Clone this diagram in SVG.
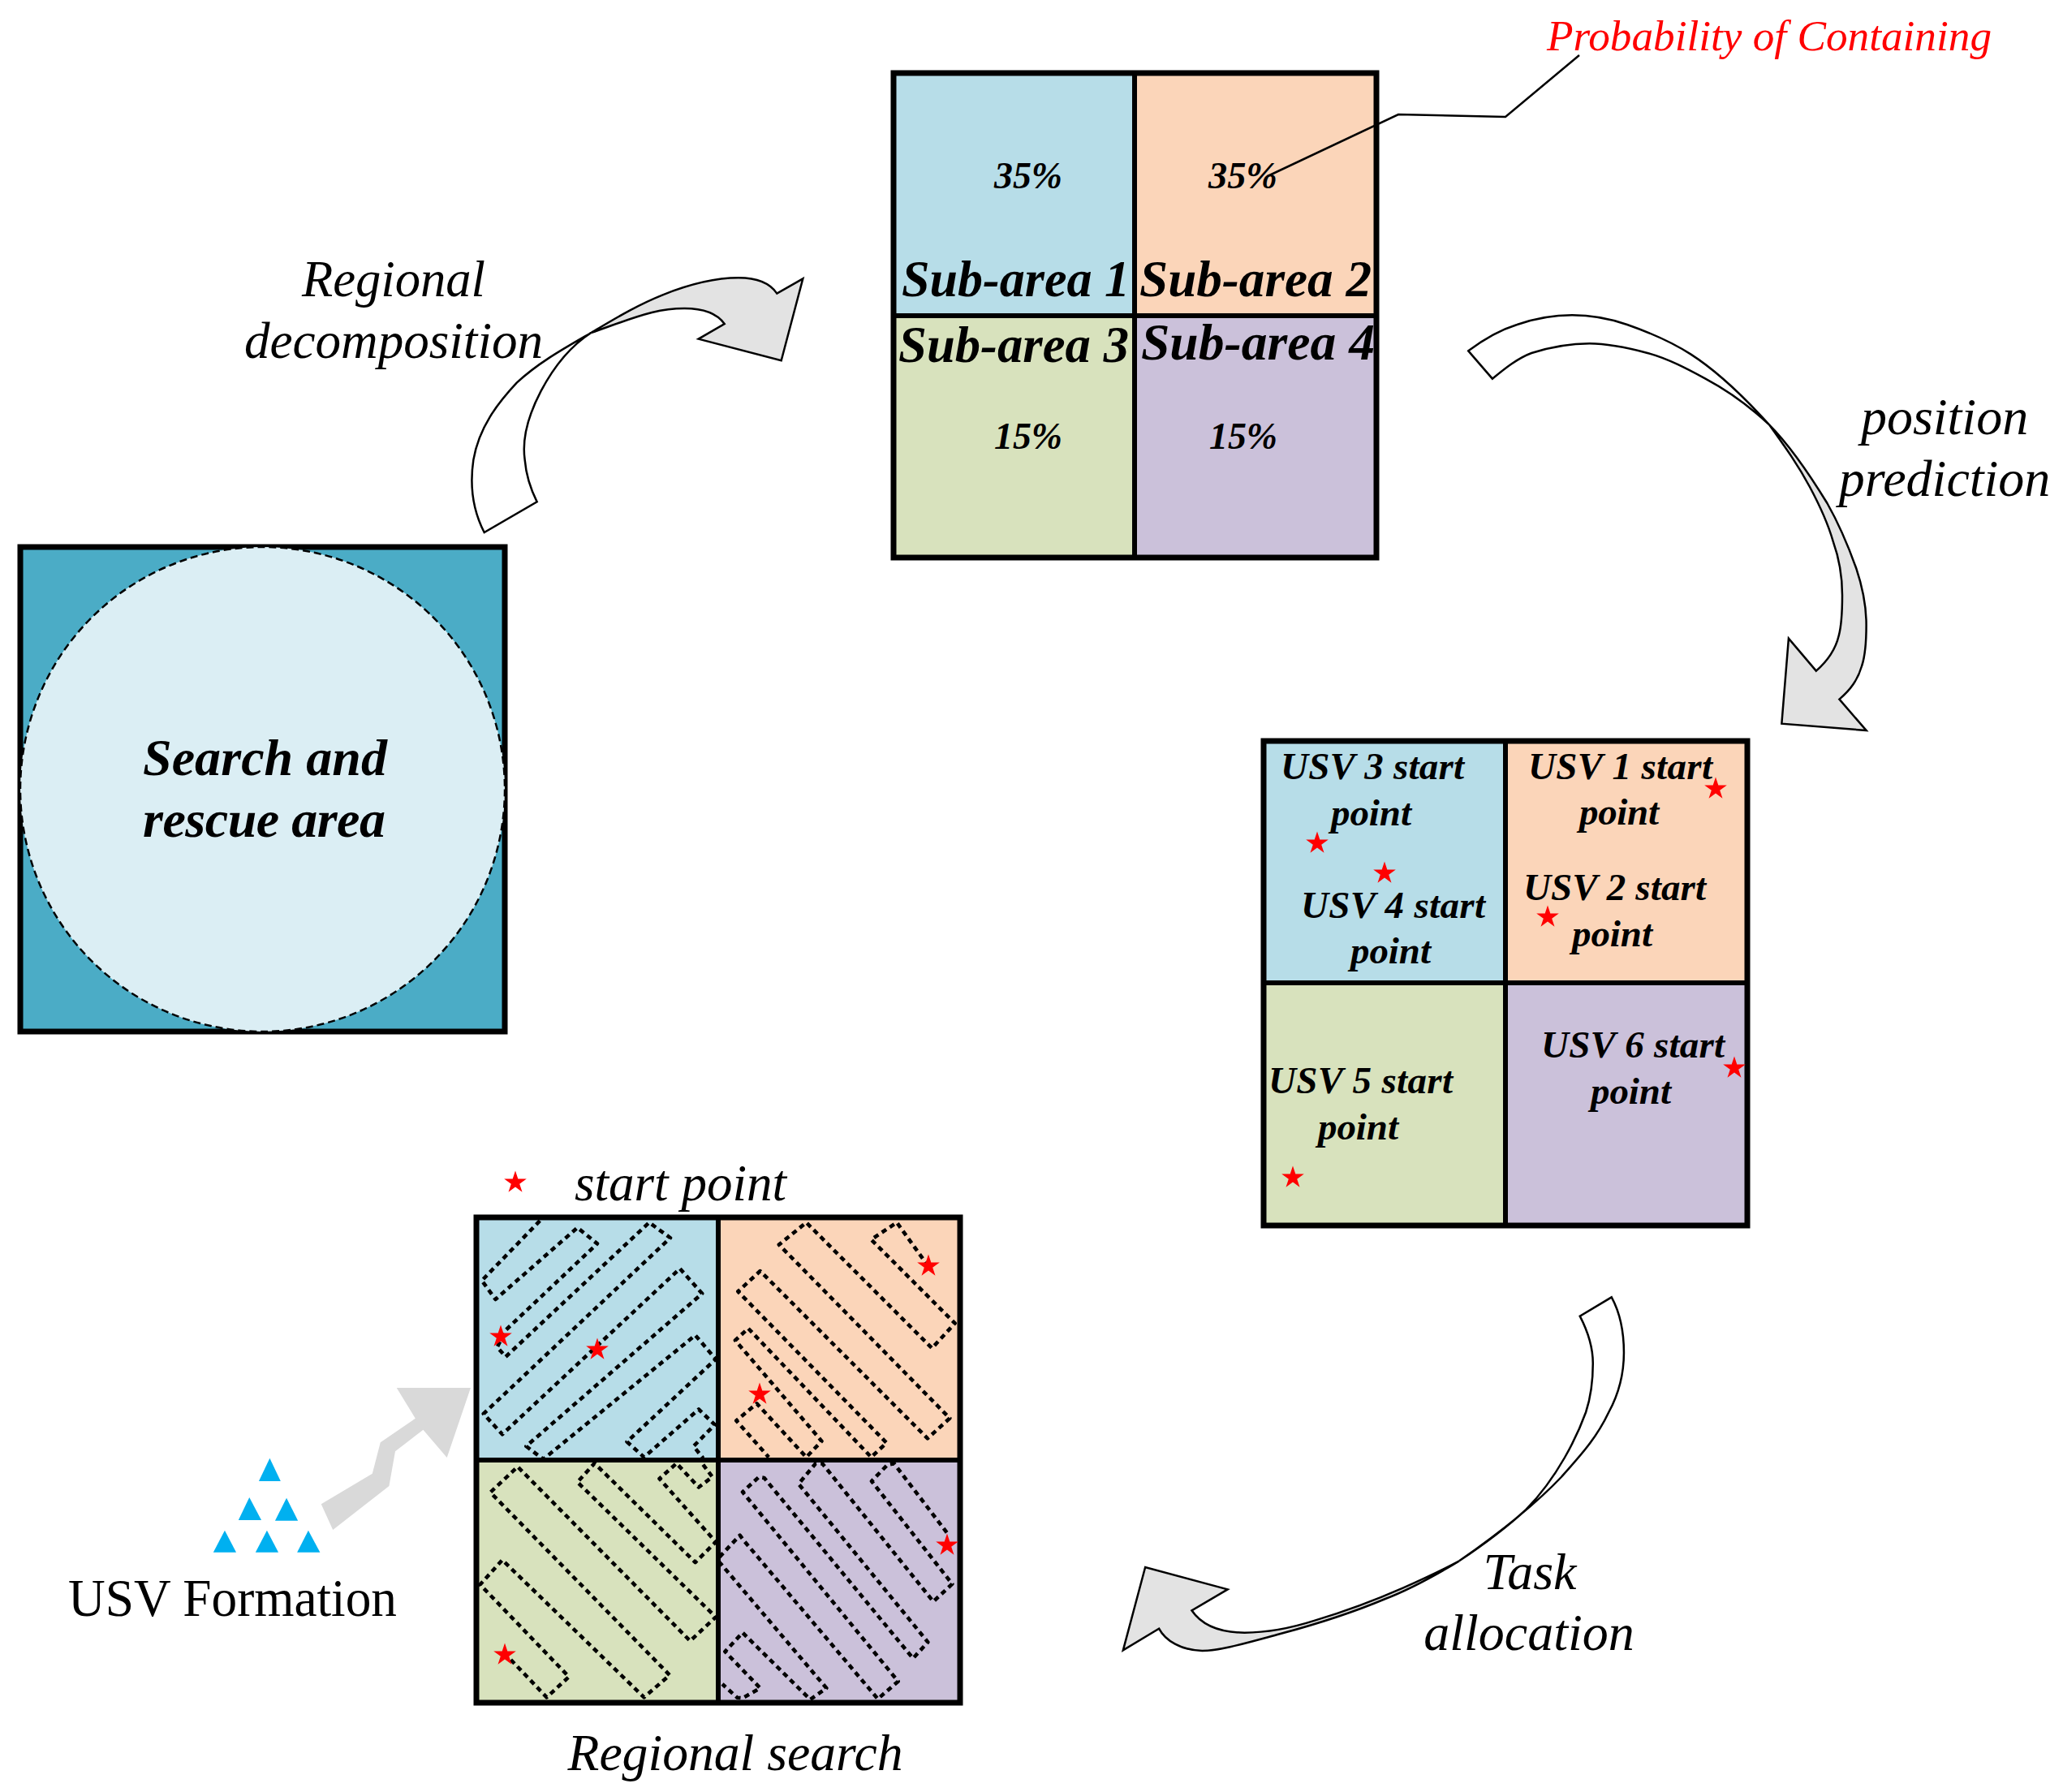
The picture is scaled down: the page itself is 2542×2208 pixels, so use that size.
<svg xmlns="http://www.w3.org/2000/svg" xmlns:xlink="http://www.w3.org/1999/xlink" width="2542" height="2208" viewBox="0 0 2542 2208">
<style>
text{font-family:"Liberation Serif","Times New Roman",serif;font-style:italic;fill:#000}
.lab{font-size:64px}
.big{font-size:64px;font-weight:bold}
.pc{font-size:46px;font-weight:bold}
.sp{font-size:47px;font-weight:bold}
.out{fill:none;stroke:#000;stroke-width:7;stroke-linejoin:miter}
.mid{stroke:#000;stroke-width:6}
.b{fill:#B7DDE8}.o{fill:#FBD5B9}.g{fill:#D8E2BD}.p{fill:#CBC1DA}
.w{fill:#fff;stroke:#000;stroke-width:2.5;stroke-linejoin:miter;vector-effect:non-scaling-stroke}
.h{fill:#E3E3E3;stroke:#000;stroke-width:2.5;stroke-linejoin:miter;vector-effect:non-scaling-stroke}
.d{fill:none;stroke:#000;stroke-width:4.6;stroke-dasharray:6.5 5.2;stroke-linejoin:round;vector-effect:non-scaling-stroke}
.t{fill:#00B0F0}
.s{fill:#FF0000}
</style>
<defs>
<polygon id="star" points="0,-14.5 3.3,-4.5 13.8,-4.5 5.2,1.7 8.5,11.7 0,5.5 -8.5,11.7 -5.2,1.7 -13.8,-4.5 -3.3,-4.5"/>
</defs>

<g id="search-area">
<rect x="25" y="674" width="597" height="597" fill="#4BACC6" stroke="#000" stroke-width="7"/>
<circle cx="323.5" cy="972.5" r="298.5" fill="#DBEEF4" stroke="#000" stroke-width="2.5" stroke-dasharray="9 5"/>
<text class="big" x="176" y="955" textLength="301" lengthAdjust="spacing">Search and</text>
<text class="big" x="176" y="1031" textLength="299" lengthAdjust="spacing">rescue area</text>
</g>

<g id="sub-areas">
<rect class="b" x="1101" y="90" width="297" height="299"/>
<rect class="o" x="1398" y="90" width="298" height="299"/>
<rect class="g" x="1101" y="389" width="297" height="298"/>
<rect class="p" x="1398" y="389" width="298" height="298"/>
<rect class="out" x="1101" y="90" width="595" height="597"/>
<line class="mid" x1="1398" y1="90" x2="1398" y2="687"/>
<line class="mid" x1="1101" y1="389" x2="1696" y2="389"/>
<text class="pc" x="1225" y="232" textLength="84" lengthAdjust="spacingAndGlyphs">35%</text>
<text class="pc" x="1489" y="232" textLength="85" lengthAdjust="spacingAndGlyphs">35%</text>
<text class="pc" x="1225" y="553" textLength="84" lengthAdjust="spacingAndGlyphs">15%</text>
<text class="pc" x="1490" y="553" textLength="84" lengthAdjust="spacingAndGlyphs">15%</text>
<text class="big" x="1111" y="365" textLength="281" lengthAdjust="spacingAndGlyphs">Sub-area 1</text>
<text class="big" x="1404" y="365" textLength="286" lengthAdjust="spacingAndGlyphs">Sub-area 2</text>
<text class="big" x="1107" y="446" textLength="284" lengthAdjust="spacingAndGlyphs">Sub-area 3</text>
<text class="big" x="1406" y="443" textLength="288" lengthAdjust="spacingAndGlyphs">Sub-area 4</text>
</g>

<g id="connectors">
<g id="arrow-decomposition" transform="translate(550,300) scale(0.33333)">
<path class="w" d="M140,1068 C100,990 85,900 100,800 C120,680 190,590 260,515 C340,440 440,385 535,330 C450,385 395,460 350,545 C300,640 280,730 290,800 C295,860 310,905 335,955 Z"/>
<path class="h" d="M535,330 C620,280 700,230 800,190 C900,150 1000,127 1080,127 C1150,127 1195,145 1222,185 L1318,130 L1238,433 L932,353 L1028,297 C1000,258 945,240 880,240 C840,240 800,245 760,255 C680,275 610,305 535,330 Z"/>
</g>
<g id="arrow-prediction" transform="translate(1780,400) scale(0.35714,0.33333)">
<path class="w" d="M82,97 C140,50 190,20 250,0 C310,-22 375,-35 440,-35 C505,-35 570,-22 630,0 C710,30 785,65 850,110 C930,165 1010,240 1120,370 C1040,290 970,240 900,200 C840,165 770,125 700,105 C630,85 565,70 500,70 C430,70 360,85 300,105 C250,125 205,165 165,200 Z"/>
<path class="h" d="M1120,370 C1190,445 1260,555 1320,660 C1365,745 1395,825 1420,900 C1445,980 1455,1050 1455,1110 C1455,1170 1452,1220 1440,1260 C1425,1315 1400,1350 1362,1385 L1455,1500 L1163,1475 L1187,1160 L1282,1280 C1325,1240 1350,1195 1360,1150 C1370,1110 1372,1060 1372,1000 C1372,930 1360,860 1340,800 C1320,725 1290,660 1260,600 C1220,520 1180,460 1120,370 Z"/>
</g>
<g id="arrow-allocation" transform="translate(1360,1580) scale(0.43365,0.33333)">
<path class="w" d="M1443,55 C1468,115 1478,185 1478,260 C1478,340 1460,420 1435,480 C1395,590 1340,660 1300,720 C1220,830 1120,930 1010,1030 C1090,960 1150,900 1200,840 C1290,720 1345,570 1370,480 C1385,420 1390,360 1390,300 C1390,240 1375,180 1353,125 Z"/>
<path class="h" d="M1010,1030 C940,1085 870,1135 800,1170 C700,1225 600,1265 500,1300 C400,1335 330,1362 280,1362 C220,1360 175,1325 157,1280 L55,1360 L118,1053 L352,1135 L250,1213 C280,1270 330,1295 400,1295 C470,1295 540,1275 600,1250 C690,1215 780,1170 850,1130 C910,1095 960,1065 1010,1030 Z"/>
</g>
<polyline id="leader" points="1562,217 1723,141 1855,144 1946,68" fill="none" stroke="#000" stroke-width="2.5"/>
<polygon id="arrow-formation" fill="#D9D9D9" transform="translate(60,1680) scale(0.34435,0.33333)" points="975,520 1158,407 1187,292 1312,203 1245,90 1510,90 1425,348 1340,245 1240,325 1218,453 1017,615"/>
</g>

<g id="start-points">
<rect class="b" x="1557" y="913" width="298" height="298"/>
<rect class="o" x="1855" y="913" width="298" height="298"/>
<rect class="g" x="1557" y="1211" width="298" height="299"/>
<rect class="p" x="1855" y="1211" width="298" height="299"/>
<rect class="out" x="1557" y="913" width="596" height="597"/>
<line class="mid" x1="1855" y1="913" x2="1855" y2="1510"/>
<line class="mid" x1="1557" y1="1211" x2="2153" y2="1211"/>
<text class="sp" x="1578" y="960" textLength="226">USV 3 start</text>
<text class="sp" x="1640" y="1017" textLength="99">point</text>
<text class="sp" x="1883" y="960" textLength="227">USV 1 start</text>
<text class="sp" x="1946" y="1016" textLength="98">point</text>
<text class="sp" x="1603" y="1131" textLength="227">USV 4 start</text>
<text class="sp" x="1664" y="1187" textLength="99">point</text>
<text class="sp" x="1877" y="1109" textLength="225">USV 2 start</text>
<text class="sp" x="1937" y="1166" textLength="99">point</text>
<text class="sp" x="1563" y="1347" textLength="227">USV 5 start</text>
<text class="sp" x="1624" y="1404" textLength="99">point</text>
<text class="sp" x="1899" y="1303" textLength="226">USV 6 start</text>
<text class="sp" x="1960" y="1360" textLength="99">point</text>
<use xlink:href="#star" href="#star" class="s" x="1623" y="1039"/>
<use xlink:href="#star" href="#star" class="s" x="1706" y="1076"/>
<use xlink:href="#star" href="#star" class="s" x="2114" y="972"/>
<use xlink:href="#star" href="#star" class="s" x="1907" y="1130"/>
<use xlink:href="#star" href="#star" class="s" x="1593" y="1451"/>
<use xlink:href="#star" href="#star" class="s" x="2137" y="1316"/>
</g>

<g id="regional-search">
<rect class="b" x="587" y="1500" width="298" height="299"/>
<rect class="o" x="885" y="1500" width="298" height="299"/>
<rect class="g" x="587" y="1799" width="298" height="299"/>
<rect class="p" x="885" y="1799" width="298" height="299"/>
<g transform="translate(560,1460) scale(0.42088)">
<path class="d" d="M250,105 L80,280 L120,335 L360,125 L418,172 L150,425 L125,475 L150,503 L570,110 L632,155 L85,670 L140,730 L660,245 L725,318 L210,765 L260,803 L705,440 L765,510 L505,752 L555,797 L715,657 L762,702 L700,765 L728,800"/>
<path class="d" d="M1387,238 L1295,110 L1220,160 L1465,405 L1398,478 L1030,110 L950,175 L1450,683 L1385,742 L895,252 L830,312 L1265,755 L1220,797 L860,420 L822,455 L1075,750 L1030,797 L885,640 L825,690 L920,797"/>
<path class="d" d="M165,1390 L270,1500 L335,1440 L75,1170 L140,1098 L555,1500 L630,1435 L105,900 L185,825 L690,1335 L765,1265 L360,870 L410,815 L705,1105 L765,1045 L600,860 L650,815 L715,885 L755,855 L725,815"/>
</g>
<path class="d" transform="translate(880,1795) scale(0.33333)" d="M860,280 L665,25 L640,30 L582,90 L880,470 L810,535 L400,25 L375,25 L312,100 L790,685 L735,745 L185,78 L165,75 L105,130 L680,830 L605,895 L110,310 L95,290 L20,370 L20,390 L415,855 L355,897 L105,650 L40,720 L170,855 L105,892 L85,890 L30,840"/>
<rect class="out" x="587" y="1500" width="596" height="598"/>
<line class="mid" x1="885" y1="1500" x2="885" y2="2098"/>
<line class="mid" x1="587" y1="1799" x2="1183" y2="1799"/>
<use xlink:href="#star" href="#star" class="s" x="617" y="1647"/>
<use xlink:href="#star" href="#star" class="s" x="736" y="1663"/>
<use xlink:href="#star" href="#star" class="s" x="1144" y="1560"/>
<use xlink:href="#star" href="#star" class="s" x="936" y="1718"/>
<use xlink:href="#star" href="#star" class="s" x="1167" y="1904"/>
<use xlink:href="#star" href="#star" class="s" x="622" y="2039"/>
</g>

<g id="usv-formation">
<g transform="translate(60,1680) scale(0.34435,0.33333)">
<polygon class="t" points="791,350 752,435 830,435"/>
<polygon class="t" points="718,495 679,579 761,579"/>
<polygon class="t" points="851,497 810,581 892,581"/>
<polygon class="t" points="630,617 589,698 671,698"/>
<polygon class="t" points="781,617 740,698 822,698"/>
<polygon class="t" points="929,617 889,698 971,698"/>
</g>
<text x="84" y="1991" font-size="65" style="font-style:normal" textLength="405" lengthAdjust="spacingAndGlyphs">USV Formation</text>
</g>

<g id="labels">
<text class="lab" x="485" y="365" text-anchor="middle" textLength="226" lengthAdjust="spacingAndGlyphs">Regional</text>
<text class="lab" x="485" y="441" text-anchor="middle" textLength="368" lengthAdjust="spacingAndGlyphs">decomposition</text>
<text class="lab" x="2396" y="535" text-anchor="middle">position</text>
<text class="lab" x="2396" y="611" text-anchor="middle">prediction</text>
<text class="lab" x="1885" y="1958" text-anchor="middle">Task</text>
<text class="lab" x="1884" y="2033" text-anchor="middle">allocation</text>
<text class="lab" x="708" y="1479" textLength="261" lengthAdjust="spacingAndGlyphs">start point</text>
<use xlink:href="#star" href="#star" class="s" x="635" y="1457"/>
<text class="lab" x="906" y="2181" text-anchor="middle" textLength="413" lengthAdjust="spacingAndGlyphs">Regional search</text>
<text x="1906" y="62" font-size="52" style="fill:#FF0000" textLength="548" lengthAdjust="spacingAndGlyphs">Probability of Containing</text>
</g>
</svg>
